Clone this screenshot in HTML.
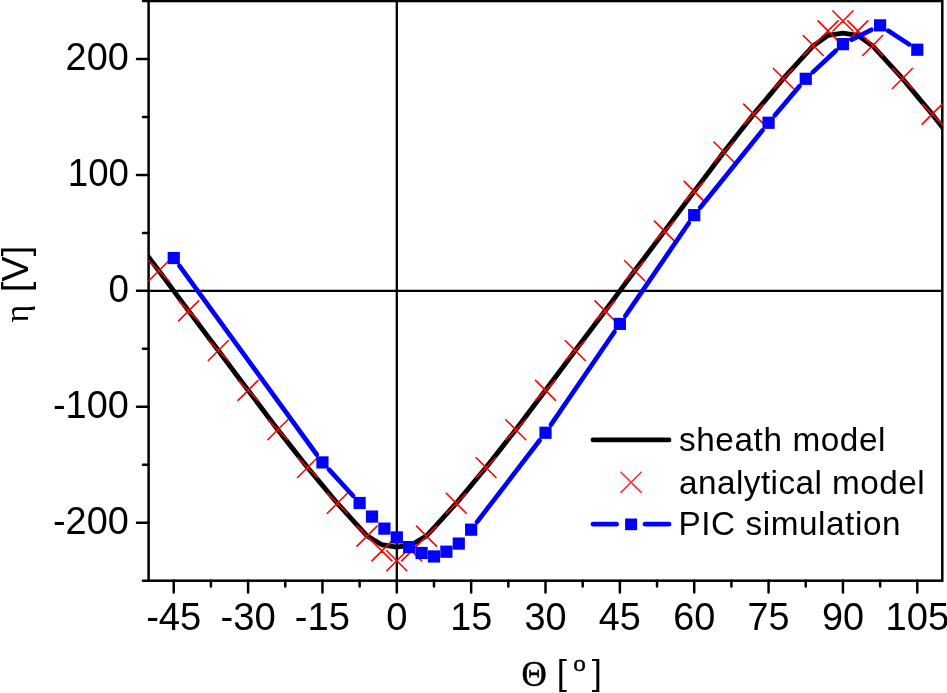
<!DOCTYPE html><html><head><meta charset="utf-8"><title>eta vs theta</title><style>html,body{margin:0;padding:0;background:#fff;overflow:hidden;}svg{display:block;}</style></head><body>
<svg width="947" height="693" viewBox="0 0 947 693">
<rect width="947" height="693" fill="#fff"/>
<defs><clipPath id="c"><rect x="148.6" y="1.04" width="793.70" height="579.66"/></clipPath></defs>
<g stroke="#000" stroke-width="2.3" fill="none">
<line x1="396.80" y1="1.04" x2="396.80" y2="580.7"/>
<line x1="148.6" y1="290.85" x2="942.3" y2="290.85"/>
</g>
<g stroke="#000" stroke-width="2.5" fill="none">
<rect x="148.6" y="1.04" width="793.70" height="579.66"/>
<path d="M137.00 522.71H148.6M137.00 406.78H148.6M137.00 290.85H148.6M137.00 174.92H148.6M137.00 58.99H148.6M143.00 580.67H148.6M143.00 464.75H148.6M143.00 348.82H148.6M143.00 232.89H148.6M143.00 116.96H148.6M143.00 1.03H148.6M173.74 580.7V592.50M248.09 580.7V592.50M322.44 580.7V592.50M396.80 580.7V592.50M471.16 580.7V592.50M545.51 580.7V592.50M619.87 580.7V592.50M694.22 580.7V592.50M768.58 580.7V592.50M842.93 580.7V592.50M917.29 580.7V592.50M210.91 580.7V586.50M285.27 580.7V586.50M359.62 580.7V586.50M433.98 580.7V586.50M508.33 580.7V586.50M582.69 580.7V586.50M657.04 580.7V586.50M731.40 580.7V586.50M805.75 580.7V586.50M880.11 580.7V586.50" stroke-linecap="round"/>
</g>
<g clip-path="url(#c)">
<polyline points="143.99,250.97 158.86,270.79 173.74,290.85 188.61,310.91 203.48,330.73 218.35,350.55 233.22,370.44 248.09,390.32 262.96,410.03 277.83,429.73 292.70,448.63 307.57,467.53 322.44,485.38 337.32,503.23 352.19,519.58 367.06,535.81 381.93,544.74 396.80,547.06 411.67,544.74 426.54,535.81 441.41,519.58 456.28,503.23 471.16,485.38 486.03,467.53 500.90,448.63 515.77,429.73 530.64,410.03 545.51,390.32 560.38,370.44 575.25,350.55 590.12,330.73 604.99,310.91 619.87,290.85 634.74,270.79 649.61,250.97 664.48,231.15 679.35,211.26 694.22,191.38 709.09,171.67 723.96,151.97 738.83,133.07 753.70,114.17 768.58,96.32 783.45,78.47 798.32,62.12 813.19,45.89 828.06,35.34 842.93,33.14 857.80,35.34 872.67,45.89 887.54,62.12 902.41,78.47 917.29,96.32 932.16,114.17 947.03,133.07" stroke="#000" stroke-width="4.9" fill="none" stroke-linejoin="round"/>
</g>
<path d="M148.86 260.79L168.86 280.79M148.86 280.79L168.86 260.79M178.61 300.91L198.61 320.91M178.61 320.91L198.61 300.91M208.35 340.55L228.35 360.55M208.35 360.55L228.35 340.55M238.09 380.32L258.09 400.32M238.09 400.32L258.09 380.32M267.83 419.73L287.83 439.73M267.83 439.73L287.83 419.73M297.57 457.53L317.57 477.53M297.57 477.53L317.57 457.53M327.32 493.23L347.32 513.23M327.32 513.23L347.32 493.23M357.06 526.16L377.06 546.16M357.06 546.16L377.06 526.16M371.93 540.88L391.93 560.88M371.93 560.88L391.93 540.88M386.80 550.74L406.80 570.74M386.80 570.74L406.80 550.74M401.67 540.88L421.67 560.88M401.67 560.88L421.67 540.88M416.54 526.16L436.54 546.16M416.54 546.16L436.54 526.16M446.28 493.23L466.28 513.23M446.28 513.23L466.28 493.23M476.03 457.53L496.03 477.53M476.03 477.53L496.03 457.53M505.77 419.73L525.77 439.73M505.77 439.73L525.77 419.73M535.51 380.32L555.51 400.32M535.51 400.32L555.51 380.32M565.25 340.55L585.25 360.55M565.25 360.55L585.25 340.55M594.99 300.91L614.99 320.91M594.99 320.91L614.99 300.91M624.74 260.79L644.74 280.79M624.74 280.79L644.74 260.79M654.48 221.15L674.48 241.15M654.48 241.15L674.48 221.15M684.22 181.38L704.22 201.38M684.22 201.38L704.22 181.38M713.96 141.97L733.96 161.97M713.96 161.97L733.96 141.97M743.70 104.17L763.70 124.17M743.70 124.17L763.70 104.17M773.45 68.47L793.45 88.47M773.45 88.47L793.45 68.47M803.19 35.54L823.19 55.54M803.19 55.54L823.19 35.54M818.06 20.82L838.06 40.82M818.06 40.82L838.06 20.82M832.93 10.96L852.93 30.96M832.93 30.96L852.93 10.96M847.80 20.82L867.80 40.82M847.80 40.82L867.80 20.82M862.67 35.54L882.67 55.54M862.67 55.54L882.67 35.54M892.41 68.47L912.41 88.47M892.41 88.47L912.41 68.47M922.16 104.17L942.16 124.17M922.16 124.17L942.16 104.17" stroke="#ff0000" stroke-width="1.6" stroke-linecap="round" fill="none"/>
<path d="M179.50 265.97L316.68 454.50M329.07 469.65L353.00 495.78M477.12 521.89L539.54 440.52M551.04 424.66L614.34 331.98M625.40 315.80L688.69 223.24M700.36 207.51L762.43 130.39M774.91 115.27L799.42 86.30M812.92 72.13L835.76 50.83M851.68 39.73L871.36 29.79M888.31 30.74L909.09 44.35" stroke="#0000ff" stroke-width="4.7" stroke-linecap="round" fill="none"/>
<rect x="167.64" y="251.94" width="12.2" height="12.2" fill="#0000ff"/>
<rect x="316.34" y="456.33" width="12.2" height="12.2" fill="#0000ff"/>
<rect x="353.52" y="496.90" width="12.2" height="12.2" fill="#0000ff"/>
<rect x="365.91" y="510.47" width="12.2" height="12.2" fill="#0000ff"/>
<rect x="378.31" y="522.52" width="12.2" height="12.2" fill="#0000ff"/>
<rect x="390.70" y="531.33" width="12.2" height="12.2" fill="#0000ff"/>
<rect x="403.09" y="540.96" width="12.2" height="12.2" fill="#0000ff"/>
<rect x="415.49" y="546.87" width="12.2" height="12.2" fill="#0000ff"/>
<rect x="427.88" y="550.35" width="12.2" height="12.2" fill="#0000ff"/>
<rect x="440.27" y="545.59" width="12.2" height="12.2" fill="#0000ff"/>
<rect x="452.66" y="537.48" width="12.2" height="12.2" fill="#0000ff"/>
<rect x="465.06" y="523.57" width="12.2" height="12.2" fill="#0000ff"/>
<rect x="539.41" y="426.65" width="12.2" height="12.2" fill="#0000ff"/>
<rect x="613.76" y="317.79" width="12.2" height="12.2" fill="#0000ff"/>
<rect x="688.12" y="209.05" width="12.2" height="12.2" fill="#0000ff"/>
<rect x="762.48" y="116.65" width="12.2" height="12.2" fill="#0000ff"/>
<rect x="799.65" y="72.71" width="12.2" height="12.2" fill="#0000ff"/>
<rect x="836.83" y="38.05" width="12.2" height="12.2" fill="#0000ff"/>
<rect x="874.01" y="19.27" width="12.2" height="12.2" fill="#0000ff"/>
<rect x="911.19" y="43.62" width="12.2" height="12.2" fill="#0000ff"/>
<g font-family='"Liberation Sans", Arial, sans-serif' font-size="39" fill="#000">
<text x="128.8" y="534.11" text-anchor="end" textLength="75.8" lengthAdjust="spacingAndGlyphs">-200</text>
<text x="128.8" y="418.18" text-anchor="end" textLength="75.8" lengthAdjust="spacingAndGlyphs">-100</text>
<text x="128.8" y="302.25" text-anchor="end" textLength="20.4" lengthAdjust="spacingAndGlyphs">0</text>
<text x="128.8" y="186.32" text-anchor="end" textLength="61.0" lengthAdjust="spacingAndGlyphs">100</text>
<text x="128.8" y="70.39" text-anchor="end" textLength="63.2" lengthAdjust="spacingAndGlyphs">200</text>
<text x="173.74" y="629.6" text-anchor="middle" textLength="55.23" lengthAdjust="spacingAndGlyphs">-45</text>
<text x="248.09" y="629.6" text-anchor="middle" textLength="55.23" lengthAdjust="spacingAndGlyphs">-30</text>
<text x="322.44" y="629.6" text-anchor="middle" textLength="55.23" lengthAdjust="spacingAndGlyphs">-15</text>
<text x="396.80" y="629.6" text-anchor="middle" textLength="21.25" lengthAdjust="spacingAndGlyphs">0</text>
<text x="471.16" y="629.6" text-anchor="middle" textLength="42.07" lengthAdjust="spacingAndGlyphs">15</text>
<text x="545.51" y="629.6" text-anchor="middle" textLength="42.07" lengthAdjust="spacingAndGlyphs">30</text>
<text x="619.87" y="629.6" text-anchor="middle" textLength="42.07" lengthAdjust="spacingAndGlyphs">45</text>
<text x="694.22" y="629.6" text-anchor="middle" textLength="42.07" lengthAdjust="spacingAndGlyphs">60</text>
<text x="768.58" y="629.6" text-anchor="middle" textLength="42.07" lengthAdjust="spacingAndGlyphs">75</text>
<text x="842.93" y="629.6" text-anchor="middle" textLength="42.07" lengthAdjust="spacingAndGlyphs">90</text>
<text x="917.29" y="629.6" text-anchor="middle" textLength="63.75" lengthAdjust="spacingAndGlyphs">105</text>
</g>
<g font-family='"Liberation Sans", Arial, sans-serif' font-size="33.3" fill="#000">
<text x="679" y="451.3" textLength="206.5" lengthAdjust="spacing">sheath model</text>
<text x="679" y="493.6" textLength="245.6" lengthAdjust="spacing">analytical model</text>
<text x="678.5" y="534.9" textLength="222" lengthAdjust="spacing">PIC simulation</text>
</g>
<line x1="593" y1="439.9" x2="669" y2="439.9" stroke="#000" stroke-width="4.8" stroke-linecap="round"/>
<path d="M621.0 472.2L641.2 492.4M621.0 492.4L641.2 472.2" stroke="#ff3030" stroke-width="1.6" stroke-linecap="round" fill="none"/>
<g stroke="#0000ff" stroke-width="4.7" stroke-linecap="round"><line x1="593" y1="524.2" x2="616.6" y2="524.2"/><line x1="645" y1="524.2" x2="669" y2="524.2"/></g>
<rect x="625.1" y="518.5" width="12" height="11.7" fill="#0000ff"/>
<text transform="translate(27.5 322.4) rotate(-90)" font-family='"Liberation Serif", "Times New Roman", serif' font-size="34" fill="#000">η</text>
<text transform="translate(27.5 292.3) rotate(-90)" font-family='"Liberation Sans", Arial, sans-serif' font-size="36" fill="#000" textLength="46.6" lengthAdjust="spacingAndGlyphs">[V]</text>
<g font-family='"Liberation Serif", "Times New Roman", serif' fill="#000"><text x="521.6" y="685.9" font-size="35" stroke="#000" stroke-width="0.45">Θ</text>
<text x="556.6" y="686.8" font-size="37" font-family="DejaVu Serif" textLength="12.6" lengthAdjust="spacingAndGlyphs">[</text><text x="573.2" y="670.8" font-size="24" stroke="#000" stroke-width="0.5" textLength="12.6" lengthAdjust="spacingAndGlyphs">o</text><text x="589.4" y="686.8" font-size="37" font-family="DejaVu Serif" textLength="12.6" lengthAdjust="spacingAndGlyphs">]</text></g>
</svg></body></html>
